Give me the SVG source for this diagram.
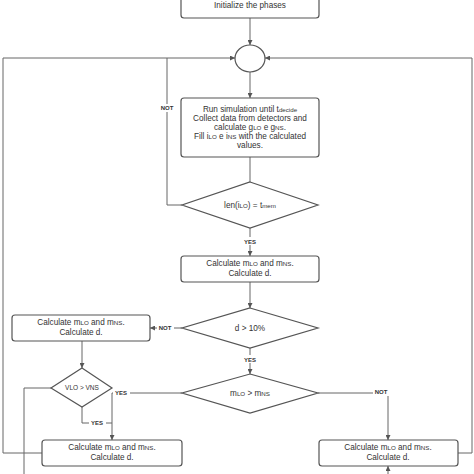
<svg xmlns="http://www.w3.org/2000/svg" width="474" height="474" viewBox="0 0 474 474">
<defs>
<marker id="arr" viewBox="0 0 10 10" refX="10" refY="5" markerWidth="5" markerHeight="5" orient="auto" markerUnits="userSpaceOnUse">
<path d="M0,0 L10,5 L0,10 z" fill="#555"/>
</marker>
<style>
.box{fill:#fff;stroke:#555;stroke-width:1.2}
.ln{fill:none;stroke:#666;stroke-width:1}
.t{font-family:"Liberation Sans",Arial,sans-serif;font-size:8.2px;fill:#333;text-anchor:middle}
.s{font-size:6.2px}
.lb{font-family:"Liberation Sans",Arial,sans-serif;font-size:6px;font-weight:bold;fill:#333;text-anchor:middle}
.lbg{fill:#fff}
</style>
</defs>
<rect width="474" height="474" fill="#fff"/>
<g id="connectors">
<path class="ln" d="M250,18 V45" marker-end="url(#arr)"/>
<path class="ln" d="M250,72 V98" marker-end="url(#arr)"/>
<path class="ln" d="M250,157 V182"/>
<path class="ln" d="M182,205 H167 V58 H235" marker-end="url(#arr)"/>
<path class="ln" d="M3,453 V58 H167"/>
<path class="ln" d="M42,453 H3"/>
<path class="ln" d="M458,453 H472 V58 H265" marker-end="url(#arr)"/>
<path class="ln" d="M250,228 V256" marker-end="url(#arr)"/>
<path class="ln" d="M250,282 V308" marker-end="url(#arr)"/>
<path class="ln" d="M250,348 V374" marker-end="url(#arr)"/>
<path class="ln" d="M182,328 H150" marker-end="url(#arr)"/>
<path class="ln" d="M318,393 H388 V440" marker-end="url(#arr)"/>
<path class="ln" d="M182,393 H112 V440" marker-end="url(#arr)"/>
<path class="ln" d="M82,341 V368" marker-end="url(#arr)"/>
<path class="ln" d="M82,407 V423 H112"/>
<path class="ln" d="M51,388 H24 V474"/>
<path class="ln" d="M388,474 V466" marker-end="url(#arr)"/>
<rect class="lbg" x="158" y="104" width="18" height="8"/>
<text class="lb" x="167" y="110">NOT</text>
<rect class="lbg" x="241" y="237" width="18" height="8"/>
<text class="lb" x="250" y="244">YES</text>
<rect class="lbg" x="157" y="324" width="17" height="8"/>
<text class="lb" x="165" y="330">NOT</text>
<rect class="lbg" x="241" y="355" width="18" height="8"/>
<text class="lb" x="250" y="362">YES</text>
<rect class="lbg" x="373" y="388" width="17" height="8"/>
<text class="lb" x="381" y="394">NOT</text>
<rect class="lbg" x="113" y="389" width="17" height="8"/>
<text class="lb" x="121" y="395">YES</text>
<rect class="lbg" x="89" y="419" width="17" height="8"/>
<text class="lb" x="97" y="425">YES</text>
</g>
<g id="init">
<rect class="box" x="181" y="-10" width="138" height="28" rx="3"/>
<text class="t" x="250" y="8">Initialize the phases</text>
</g>
<g id="junction">
<ellipse cx="250" cy="58.5" rx="15" ry="13.5" fill="#fff" stroke="#555" stroke-width="1.2"/>
</g>
<g id="simulate">
<rect class="box" x="181" y="98" width="138" height="59" rx="3"/>
<text class="t" x="250" y="112">Run simulation until t<tspan class="s">decide</tspan></text>
<text class="t" x="250" y="121">Collect data from detectors and</text>
<text class="t" x="250" y="130">calculate g<tspan class="s">LO</tspan> e g<tspan class="s">NS</tspan>.</text>
<text class="t" x="250" y="139">Fill i<tspan class="s">LO</tspan> e i<tspan class="s">NS</tspan> with the calculated</text>
<text class="t" x="250" y="148">values.</text>
</g>
<g id="len-check">
<polygon class="box" points="250,182 318,205 250,228 182,205"/>
<text class="t" x="250" y="208">len(i<tspan class="s">LO</tspan>) = t<tspan class="s">mem</tspan></text>
</g>
<g id="calc1">
<rect class="box" x="181" y="256" width="138" height="26" rx="3"/>
<text class="t" x="250" y="266">Calculate m<tspan class="s">LO</tspan> and m<tspan class="s">NS</tspan>.</text>
<text class="t" x="250" y="276">Calculate d.</text>
</g>
<g id="d-check">
<polygon class="box" points="250,308 318,328 250,348 182,328"/>
<text class="t" x="250" y="331">d &gt; 10%</text>
</g>
<g id="m-check">
<polygon class="box" points="250,374 318,393 250,413 182,393"/>
<text class="t" x="250" y="396">m<tspan class="s">LO</tspan> &gt; m<tspan class="s">NS</tspan></text>
</g>
<g id="calc-left">
<rect class="box" x="12" y="315" width="138" height="26" rx="3"/>
<text class="t" x="81" y="325">Calculate m<tspan class="s">LO</tspan> and m<tspan class="s">NS</tspan>.</text>
<text class="t" x="81" y="335">Calculate d.</text>
</g>
<g id="v-check">
<polygon class="box" points="82,368 112,388 82,407 51,388"/>
<text class="t" x="82" y="390" style="font-size:6.5px">VLO &gt; VNS</text>
</g>
<g id="calc-bottom-left">
<rect class="box" x="42" y="440" width="140" height="26" rx="3"/>
<text class="t" x="112" y="450">Calculate m<tspan class="s">LO</tspan> and m<tspan class="s">NS</tspan>.</text>
<text class="t" x="112" y="460">Calculate d.</text>
</g>
<g id="calc-bottom-right">
<rect class="box" x="319" y="440" width="139" height="26" rx="3"/>
<text class="t" x="388" y="450">Calculate m<tspan class="s">LO</tspan> and m<tspan class="s">NS</tspan>.</text>
<text class="t" x="388" y="460">Calculate d.</text>
</g>
</svg>
